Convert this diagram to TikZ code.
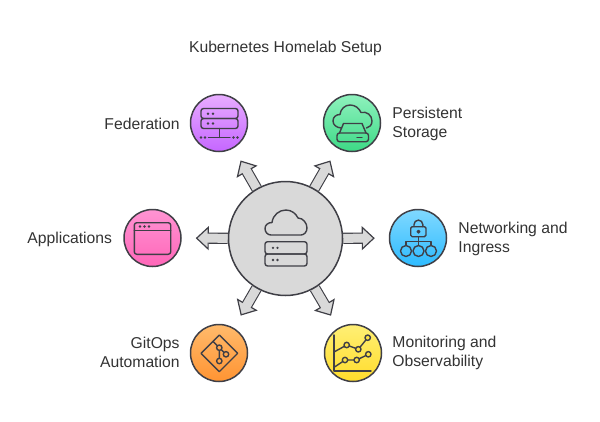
\documentclass[tikz,border=0pt]{standalone}
\usepackage{fontspec}
\setmainfont{Liberation Sans}
\usetikzlibrary{positioning,arrows.meta,backgrounds}

\definecolor{ink}{HTML}{3F3F46}
\definecolor{txt}{HTML}{333333}
\definecolor{hubgrey}{HTML}{D9D9D9}
\definecolor{fedtop}{HTML}{E8ADFF}
\definecolor{fedbot}{HTML}{C566FF}
\definecolor{stortop}{HTML}{8FF2BE}
\definecolor{storbot}{HTML}{3DD985}
\definecolor{nettop}{HTML}{80D8FF}
\definecolor{netbot}{HTML}{2DBBFF}
\definecolor{montop}{HTML}{FFEF75}
\definecolor{monbot}{HTML}{FFDC2B}
\definecolor{gittop}{HTML}{FFBA6B}
\definecolor{gitbot}{HTML}{FF9433}
\definecolor{apptop}{HTML}{FF94D3}
\definecolor{appbot}{HTML}{FF66B8}

\tikzset{
    topic/.style={circle,draw=ink,line width=1.5pt,minimum size=57pt,inner sep=0pt,top color=#1top,bottom color=#1bot},
    hubnode/.style={circle,draw=ink,line width=1.5pt,minimum size=114pt,inner sep=0pt,fill=hubgrey},
    lbl/.style={text=txt,font=\fontsize{15.7pt}{19pt}\selectfont,inner sep=0pt},
    icon/.style={draw=ink,line width=1.4pt,line join=round,line cap=round},
    flow/.style={draw=ink,line width=11.2pt,shorten >=14pt,
        -{Triangle[length=13pt,width=24pt,line width=1.2pt,fill=hubgrey]},
        postaction={draw=hubgrey,line width=9pt,-,shorten >=25pt}}
}

\begin{document}
\begin{tikzpicture}[x=1pt,y=-1pt]
    \useasboundingbox (0,0) rectangle (600,421);

    \node[lbl] (title) at (285.5,48) {Kubernetes Homelab Setup};

    \node[hubnode] (hub) at (285.5,238.5) {};
    \node[topic=fed] (fed) at (219,123) {};
    \node[topic=stor] (stor) at (352,123) {};
    \node[topic=net] (net) at (418,238) {};
    \node[topic=mon] (mon) at (353,353) {};
    \node[topic=git] (git) at (219,353) {};
    \node[topic=app] (app) at (152.5,238) {};

    \node[lbl,left=10pt of fed,yshift=-0.5pt] (fedlbl) {Federation};
    \node[lbl,right=11pt of stor,align=left,yshift=-0.5pt] (storlbl) {Persistent\\Storage};
    \node[lbl,right=11pt of net,align=left,yshift=-0.5pt] (netlbl) {Networking and\\Ingress};
    \node[lbl,right=10pt of mon,align=left] (monlbl) {Monitoring and\\Observability};
    \node[lbl,left=10pt of git,align=right,yshift=0.5pt] (gitlbl) {GitOps\\Automation};
    \node[lbl,left=11pt of app,yshift=-1.5pt] (applbl) {Applications};

    % arrows go under the hub outline
    \begin{scope}[on background layer]
        \foreach \target in {fed,stor,net,mon,git,app}
            \draw[flow] (hub) -- (\target);
    \end{scope}

    % hub icon
    \draw[icon] (271,235) .. controls (267.5,235) and (265,232) .. (265,228.5)
        .. controls (265,225) and (268,222.5) .. (272,222.5)
        .. controls (273,215) and (279,210) .. (286,210)
        .. controls (292,210) and (296,214) .. (298,218)
        .. controls (303,218) and (307,223) .. (307,228)
        .. controls (307,232) and (304,235) .. (301,235) -- cycle;
    \draw[icon,rounded corners=2.5pt] (265,241.7) rectangle (307,254);
    \draw[icon,rounded corners=2.5pt] (265,254) rectangle (307,266);
    \foreach \px/\py in {273/247.8,277.5/247.8,273/260,277.5/260}
        \fill[ink] (\px,\py) circle[radius=1.3];

    % federation icon
    \draw[icon,rounded corners=2.5pt] (201,108.5) rectangle (238,118.5);
    \draw[icon,rounded corners=2.5pt] (201,118.5) rectangle (238,128.5);
    \draw[icon] (219.5,128.5) -- (219.5,137.5);
    \draw[icon] (208.5,137.5) -- (230,137.5);
    \foreach \px/\py in {208/113.7,213/113.7,208/123.5,213/123.5,201/137.5,205/137.5,233.5/137.5,237.5/137.5}
        \fill[ink] (\px,\py) circle[radius=1.3];

    % storage icon
    \draw[icon] (341,128) .. controls (336.5,127.5) and (333,125) .. (333,121)
        .. controls (333,117) and (336,114.5) .. (340,114.5)
        .. controls (340.5,109) and (345,105) .. (350,105)
        .. controls (355,105) and (359,108) .. (361,112.5)
        .. controls (367,111) and (372,115.5) .. (372,121)
        .. controls (372,125) and (369.5,127.5) .. (366.5,128);
    \draw[icon] (339.5,133) -- (343.5,123.5) -- (362,123.5) -- (366,133);
    \draw[icon,rounded corners=2.5pt] (337,133) rectangle (368.5,141.7);
    \draw[icon] (357,137.5) -- (362,137.5);

    % networking icon
    \draw[icon,rounded corners=1.5pt] (410.7,226.7) rectangle (426,236.7);
    \draw[icon] (414,226.7) -- (414,224.5) arc[start angle=180,end angle=360,radius=4.4] -- (422.8,226.7);
    \draw[icon] (418.5,231.7) circle[radius=1.3];
    \draw[icon] (418.5,236.7) -- (418.5,245.5);
    \draw[icon] (406,245.5) -- (406,241.5) -- (431,241.5) -- (431,245.5);
    \foreach \px in {406,418.5,431}
        \draw[icon] (\px,251) circle[radius=5.5];

    % monitoring icon
    \draw[icon] (334,335) -- (334,371) -- (371,371);
    \draw[icon] (334,352) -- (346.7,345) -- (358.3,349.3) -- (367.7,337.7);
    \draw[icon] (335,366.7) -- (345,360) -- (356.7,360) -- (368.3,354.3);
    \foreach \px/\py in {346.7/345,358.3/349.3,367.7/337.7,345/360,356.7/360,368.3/354.3}
        \draw[icon,fill=monbot!70!montop] (\px,\py) circle[radius=2.7];

    % gitops icon
    \draw[icon] (219.3,335) -- (237.7,353.3) -- (219.3,371.7) -- (201,353.3) -- cycle;
    \draw[icon] (213.3,341.7) -- (219.3,347.7) -- (219.3,361);
    \draw[icon] (219.3,347.7) -- (226,354.3);
    \foreach \px/\py in {219.3/347.7,226/354.3,219.3/361}
        \draw[icon,fill=gitbot!50!gittop] (\px,\py) circle[radius=2.7];

    % applications icon
    \draw[icon,rounded corners=2.5pt] (134.3,222.7) rectangle (170.7,254.3);
    \draw[icon] (134.3,230.7) -- (170.7,230.7);
    \foreach \px in {140,144.5,149}
        \fill[ink] (\px,226.5) circle[radius=1.3];
\end{tikzpicture}
\end{document}
